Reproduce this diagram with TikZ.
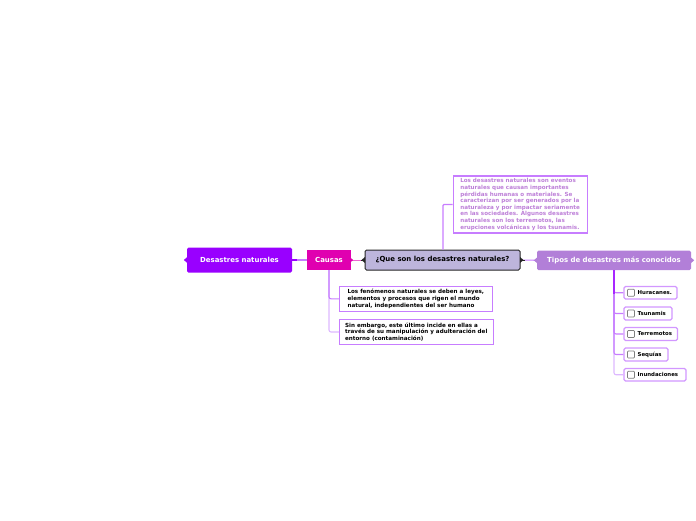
\documentclass[tikz,border=0pt]{standalone}
\usepackage{fontspec}
\setmainfont{DejaVu Sans}
\definecolor{deep}{HTML}{9900FF}
\definecolor{pinkb}{HTML}{E000B0}
\definecolor{lav}{HTML}{BDB5DC}
\definecolor{tipo}{HTML}{B27FD8}
\definecolor{lila}{HTML}{C77DFF}
\definecolor{pale}{HTML}{DDB8FF}
\definecolor{note}{HTML}{BD7FD8}
\tikzset{
  x=1pt,y=-1pt,
  mainbox/.style={rounded corners=1.5pt,inner sep=0pt,font=\fontsize{6.95}{9}\selectfont\bfseries,text=white,align=center},
  leafbox/.style={draw=lila,line width=1.1pt,fill=white,inner sep=0pt,font=\fontsize{5.6}{6.6}\selectfont\bfseries,align=left,anchor=west},
  itembox/.style={draw=lila!80!white,line width=1.1pt,fill=white,rounded corners=1.5pt,inner sep=0pt},
  itemtext/.style={inner sep=0pt,anchor=west,font=\fontsize{5.4}{6.6}\selectfont\bfseries},
  tick/.style={draw=gray,line width=.7pt,fill=white,rounded corners=.8pt,minimum width=7pt,minimum height=7pt,inner sep=0pt},
  link/.style={line width=1.1pt,draw=lila},
  trunk/.style={line width=1.1pt,rounded corners=2pt},
}
\begin{document}
\begin{tikzpicture}
\useasboundingbox (0,0) rectangle (696,520);
% central and main nodes
\node[mainbox,fill=deep,minimum width=105pt,minimum height=25pt] (des) at (239.5,260) {Desastres naturales};
\node[mainbox,fill=pinkb,rounded corners=0pt,minimum width=44pt,minimum height=20pt] (cau) at (329,260) {Causas};
\node[mainbox,fill=lav,draw=black!85,line width=1pt,text=black,minimum width=155pt,minimum height=20pt] (que) at (442.5,260) {¿Que son los desastres naturales?};
\node[mainbox,fill=tipo,minimum width=154pt,minimum height=19.5pt] (tip) at (614,260.3) {Tipos de desastres más conocidos};
% leaf nodes
\node[leafbox,text=note,minimum width=134pt,minimum height=57pt,inner xsep=4.5pt] (def) at (452.5,204.5) {Los desastres naturales son eventos\\naturales que causan importantes\\pérdidas humanas o materiales. Se\\caracterizan por ser generados por la\\naturaleza y por impactar seriamente\\en las sociedades. Algunos desastres\\naturales son los terremotos, las\\erupciones volcánicas y los tsunamis.};
\node[leafbox,minimum width=152.5pt,inner xsep=4.5pt,minimum height=25pt] (f1) at (339,298.8) {Los fenómenos naturales se deben a leyes,\\elementos y procesos que rigen el mundo\\natural, independientes del ser humano};
\node[leafbox,minimum width=153.5pt,inner xsep=4.5pt,minimum height=25pt] (f2) at (339,332) {Sin embargo, este último incide en ellas a\\través de su manipulación y adulteración del\\entorno (contaminación)};
% items
\foreach \n/\xa/\xb/\ya/\yb/\t in {a/624/677/286.5/299/Huracanes.,b/624/672/307/320/Tsunamis,c/624/677.5/327.5/340.5/Terremotos,d/624/668/348/361/Sequías,e/624/686/368.5/381/Inundaciones}{
  \node[itembox,minimum width=\xb-\xa,minimum height=\yb-\ya] (box\n) at ({(\xa+\xb)/2},{(\ya+\yb)/2}) {};
  \node[tick] (tick\n) at ([xshift=7.5pt]box\n.west) {};
  \node[itemtext] (lab\n) at ([xshift=14pt]box\n.west) {\t};
}
% connectors between main nodes
\draw[line width=1.3pt,deep] (des.east) -- ++(5,0) coordinate (d1);
\draw[line width=1.3pt,lila] (d1) -- (cau.west);
\draw[line width=1pt,pinkb!60!white] (cau.east) -- (que.west);
\draw[line width=1pt,black!85] ([xshift=-4pt]que.west) -- (que.west);
\draw[line width=1pt,lila] (que.east) -- (tip.west);
\draw[line width=1pt,black!85] (que.east) -- ++(4,0);
% small notches
\fill[deep] (des.west) ++(0.5,-3) -- ++(-3.5,3) -- ++(3.5,3) -- cycle;
\fill[tipo] (tip.east) ++(-0.5,-3) -- ++(3.5,3) -- ++(-3.5,3) -- cycle;
\fill[tipo] (tip.west) ++(0.5,-3) -- ++(-3.5,3) -- ++(3.5,3) -- cycle;
\fill[pinkb] (cau.east) ++(-0.5,-2) -- ++(2.5,2) -- ++(-2.5,2) -- cycle;
\fill[black!85] (que.west) ++(0.5,-3) -- ++(-3.5,3) -- ++(3.5,3) -- cycle;
\fill[black!85] (que.east) ++(-0.5,-3) -- ++(3.5,3) -- ++(-3.5,3) -- cycle;
% branches
\draw[link,rounded corners=1pt] ([xshift=0.5pt]que.north) |- (def.west);
\draw[trunk,pale] (cau.south) |- (f2.west);
\draw[trunk,lila] (cau.south) |- (f1.west);
\coordinate (tr) at (tip.south);
\draw[trunk,pale] (tr) |- (boxe.west);
\draw[trunk,lila] (tr) |- (boxd.west);
\draw[trunk,lila] (tr) |- (boxc.west);
\draw[trunk,lila] (tr) |- (boxb.west);
\draw[trunk,lila] (tr) |- (boxa.west);
\draw[line width=1.3pt,deep!85!white] (tr) -- ++(0,24);
\end{tikzpicture}
\end{document}
